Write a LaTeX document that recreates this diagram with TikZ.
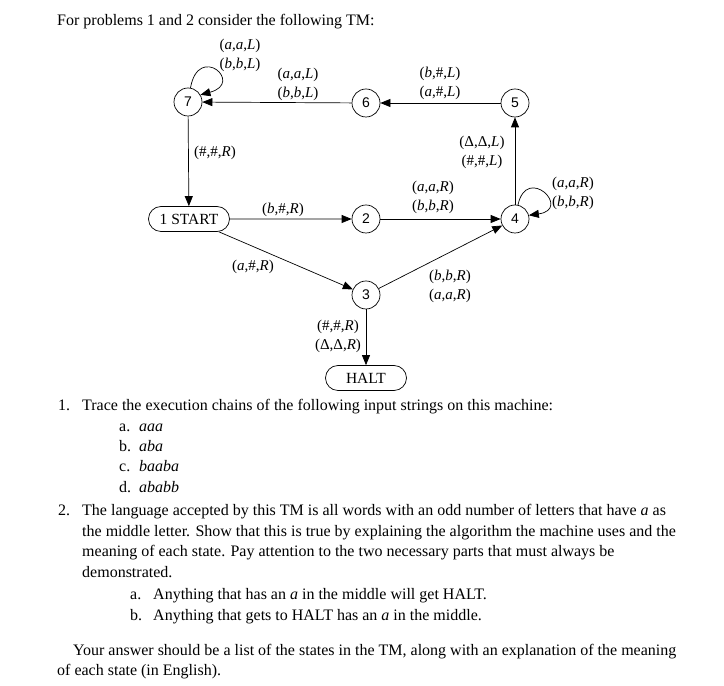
\documentclass[tikz,border=0pt]{standalone}
\usepackage{fontspec}
\setmainfont{Liberation Serif}
\newfontfamily\digitfont{Liberation Sans}
\usepackage{tikz}
\usetikzlibrary{arrows.meta,shapes.misc,positioning}
\newcommand{\sy}[1]{\textit{#1}}

\tikzset{
  state/.style={circle, draw, line width=0.7pt, minimum size=28pt, inner sep=0pt,
                font=\digitfont\fontsize{14}{14}\selectfont},
  termbox/.style={rounded rectangle, draw, line width=0.7pt, minimum width=85pt,
                  minimum height=25pt, inner sep=2pt, font=\fontsize{15.5}{15.5}\selectfont},
  trans/.style={-{Triangle[length=10pt,width=8pt]}, line width=0.7pt},
  lbl/.style={align=center, inner sep=0pt, font=\fontsize{15}{19}\selectfont},
  body/.style={anchor=base west, inner sep=0pt, font=\fontsize{16}{20}\selectfont}
}

\begin{document}
\begin{tikzpicture}[x=1pt,y=1pt]
  \useasboundingbox (0,0) rectangle (724,686);

  % Heading
  \node[body] (head) at (57,660) {For problems 1 and 2 consider the following TM:};

  % States
  \node[state] (s7) at (188,584) {7};
  \node[state] (s6) at (366,583) {6};
  \node[state] (s5) at (515,583) {5};
  \node[state] (s4) at (515,467) {4};
  \node[state] (s2) at (366,467) {2};
  \node[state] (s3) at (366,391) {3};
  \node[termbox] (start) at (189,467) {1 START};
  \node[termbox] (halt) at (366,308) {HALT};

  % Transitions
  \draw[trans] (s6) -- (s7);
  \draw[trans] (s5) -- (s6);
  \draw[trans] (s7) -- (start);
  \draw[trans] (start) -- (s2);
  \draw[trans] (s2) -- (s4);
  \draw[trans] (s4) -- (s5);
  \draw[trans] (start) -- (s3);
  \draw[trans] (s3) -- (s4);
  \draw[trans] (s3) -- (halt);
  \draw[trans] (s7.80) .. controls +(80:46) and +(15:46) .. (s7.30);
  \draw[trans] (s4.78) .. controls +(78:42) and +(8:44) .. (s4.15);

  % Labels
  \node[lbl] (l77) at (240,631) {(\sy{a},\sy{a},\sy{L})\\(\sy{b},\sy{b},\sy{L})};
  \node[lbl] (l67) at (298,602) {(\sy{a},\sy{a},\sy{L})\\(\sy{b},\sy{b},\sy{L})};
  \node[lbl] (l56) at (440,603) {(\sy{b},\#,\sy{L})\\(\sy{a},\#,\sy{L})};
  \node[lbl] (l71) at (215,533) {(\#,\#,\sy{R})};
  \node[lbl] (l12) at (283,476) {(\sy{b},\#,\sy{R})};
  \node[lbl] (l24) at (433,489) {(\sy{a},\sy{a},\sy{R})\\(\sy{b},\sy{b},\sy{R})};
  \node[lbl] (l45) at (482,534) {(Δ,Δ,\sy{L})\\(\#,\#,\sy{L})};
  \node[lbl] (l44) at (573,493) {(\sy{a},\sy{a},\sy{R})\\(\sy{b},\sy{b},\sy{R})};
  \node[lbl] (l13) at (253,419) {(\sy{a},\#,\sy{R})};
  \node[lbl] (l34) at (450,400) {(\sy{b},\sy{b},\sy{R})\\(\sy{a},\sy{a},\sy{R})};
  \node[lbl] (l3h) at (338,350) {(\#,\#,\sy{R})\\(Δ,Δ,\sy{R})};

  % Problem 1
  \node[body] (n1) at (58,275) {1.};
  \node[body] (t1) at (82,275) {Trace the execution chains of the following input strings on this machine:};
  \node[body] (ia) at (119,254) {a.};
  \node[body] (wa) at (139,254) {\sy{aaa}};
  \node[body] (ib) at (119,234) {b.};
  \node[body] (wb) at (139,234) {\sy{aba}};
  \node[body] (ic) at (119,214) {c.};
  \node[body] (wc) at (139,214) {\sy{baaba}};
  \node[body] (id) at (119,193) {d.};
  \node[body] (wd) at (139,193) {\sy{ababb}};

  % Problem 2
  \node[body] (n2) at (58,170) {2.};
  \node[body] (t2a) at (82,170) {The language accepted by this TM is all words with an odd number of letters that have \sy{a} as};
  \node[body] (t2b) at (82,149) {the middle letter. Show that this is true by explaining the algorithm the machine uses and the};
  \node[body] (t2c) at (82,129) {meaning of each state. Pay attention to the two necessary parts that must always be};
  \node[body] (t2d) at (82,108) {demonstrated.};
  \node[body] (ja) at (130,86) {a.};
  \node[body] (pa) at (153,86) {Anything that has an \sy{a} in the middle will get HALT.};
  \node[body] (jb) at (130,65) {b.};
  \node[body] (pb) at (153,65) {Anything that gets to HALT has an \sy{a} in the middle.};

  % Closing note
  \node[body] (c1) at (73,30) {Your answer should be a list of the states in the TM, along with an explanation of the meaning};
  \node[body] (c2) at (57,10) {of each state (in English).};
\end{tikzpicture}
\end{document}
